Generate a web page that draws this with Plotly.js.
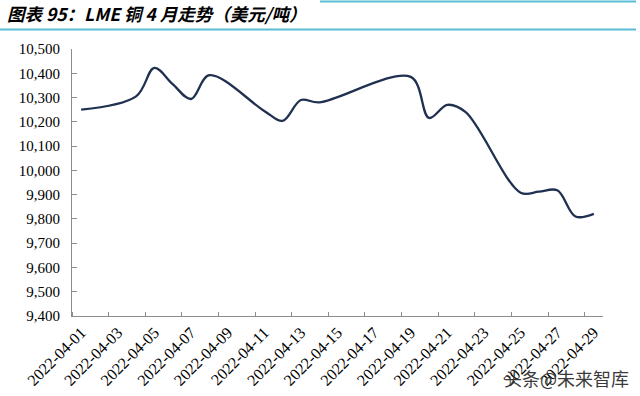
<!DOCTYPE html>
<html>
<head>
<meta charset="utf-8">
<script src="https://cdn.plot.ly/plotly-3.0.1.min.js"></script>
<style>
html,body{margin:0;padding:0;background:#fff;}
#chart{width:640px;height:396px;}
</style>
</head>
<body>
<div id="chart"></div>
<script>
// LME copper, April 2022 (USD/t)
const dates = ['2022-04-01','2022-04-04','2022-04-05','2022-04-06','2022-04-07','2022-04-08',
  '2022-04-11','2022-04-12','2022-04-13','2022-04-14','2022-04-19','2022-04-20','2022-04-21',
  '2022-04-22','2022-04-25','2022-04-26','2022-04-27','2022-04-28','2022-04-29'];
const prices = [10250,10305,10422,10355,10294,10392,10245,10204,10290,10280,10385,10216,10270,
  10240,9908,9912,9918,9810,9821];

const yTickVals = [9400,9500,9600,9700,9800,9900,10000,10100,10200,10300,10400,10500];
const yTickText = ['9,400','9,500','9,600','9,700','9,800','9,900','10,000','10,100','10,200','10,300','10,400','10,500'];
const xLabelVals = ['2022-04-01','2022-04-03','2022-04-05','2022-04-07','2022-04-09','2022-04-11',
  '2022-04-13','2022-04-15','2022-04-17','2022-04-19','2022-04-21','2022-04-23','2022-04-25',
  '2022-04-27','2022-04-29'];

const titleText = '图表 95：LME 铜 4 月走势（美元/吨）';
const watermark = '头条@未来智库';

const xRange = ['2022-03-31 12:00','2022-04-29 12:00'];
const serif = 'Liberation Serif, DejaVu Serif, serif';

const trace = {
  x: dates, y: prices, type: 'scatter', mode: 'lines',
  line: {color: '#1f3050', width: 2.3, shape: 'spline', smoothing: 1},
  hoverinfo: 'skip'
};

const layout = {
  width: 640, height: 396,
  margin: {l: 72, r: 37, t: 49, b: 80},
  paper_bgcolor: '#ffffff', plot_bgcolor: '#ffffff',
  showlegend: false,
  xaxis: {
    type: 'date', range: xRange,
    tickmode: 'array', tickvals: xLabelVals, ticktext: xLabelVals,
    tickangle: -45, ticks: '', showgrid: false, zeroline: false,
    showline: true, linecolor: '#8c8c8c', linewidth: 1,
    tickfont: {family: serif, size: 16, color: '#000'},
    minor: {tickmode: 'linear', tick0: '2022-04-02 12:00', dtick: 2 * 86400000,
            ticks: 'inside', ticklen: 4, tickcolor: '#8c8c8c', tickwidth: 1, showgrid: false},
    fixedrange: true
  },
  yaxis: {
    range: [9400, 10500],
    tickmode: 'array', tickvals: yTickVals, ticktext: yTickText,
    ticks: 'inside', ticklen: 5, tickcolor: '#8c8c8c', tickwidth: 1,
    ticklabelstandoff: 8,
    showgrid: false, zeroline: false,
    showline: true, linecolor: '#8c8c8c', linewidth: 1,
    tickfont: {family: serif, size: 15, color: '#000'},
    fixedrange: true
  },
  shapes: [
    {type: 'line', xref: 'paper', yref: 'paper', x0: -72/531, x1: 564/531,
     y0: 1 + (49-29.5)/267, y1: 1 + (49-29.5)/267, line: {color: '#5bbcd6', width: 2}},
    {type: 'line', xref: 'paper', yref: 'paper', x0: (320-72)/531, x1: 564/531,
     y0: 1 + (49-1.5)/267, y1: 1 + (49-1.5)/267, line: {color: '#5bbcd6', width: 2}}
  ],
  annotations: [
    {text: '<b><i>' + titleText + '</i></b>', xref: 'paper', yref: 'paper',
     x: -67/531, y: 1 + (49-14)/267, xanchor: 'left', yanchor: 'middle', showarrow: false,
     font: {family: 'Noto Sans CJK SC, Noto Sans, sans-serif', size: 17.5, color: '#000'}},
    {text: watermark, xref: 'paper', yref: 'paper',
     x: (631-72)/531, y: -(378-316)/267, xanchor: 'right', yanchor: 'middle', showarrow: false,
     font: {family: 'Noto Sans CJK SC, sans-serif', size: 18, color: '#3a3a3a'}}
  ]
};

Plotly.newPlot('chart', [trace], layout, {staticPlot: true, displayModeBar: false});
</script>
</body>
</html>
